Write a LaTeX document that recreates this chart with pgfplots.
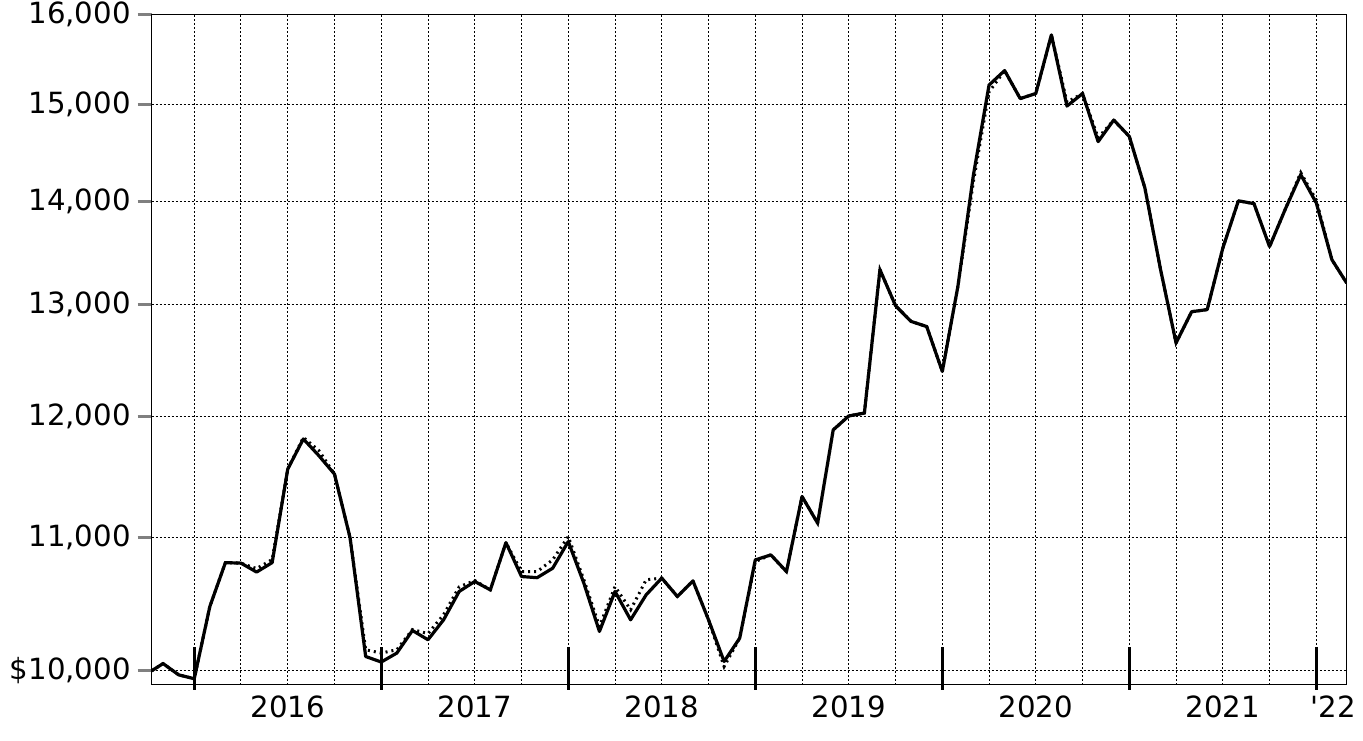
\documentclass[border=0pt]{standalone}
\usepackage{fontspec}
\setmainfont{DejaVu Sans}
\usepackage{pgfplots}
\usepackage{pgfplotstable}
\pgfplotsset{compat=1.18}

% month index: 0 = start of 2016, values in dollars
\pgfplotstableread{
m v
-2.73 10000
-2 10052
-1 9971
0 9943
1 10471
2 10806
3 10802
4 10733
5 10806
6 11555
7 11807
8 11666
9 11513
10 11000
11 10103
12 10063
13 10128
14 10293
15 10225
16 10372
17 10585
18 10661
19 10597
20 10962
21 10699
22 10690
23 10763
24 10970
25 10648
26 10286
27 10585
28 10372
29 10560
30 10687
31 10547
32 10666
33 10372
34 10067
35 10237
36 10827
37 10866
38 10737
39 11330
40 11116
41 11884
42 12003
43 12028
44 13329
45 12989
46 12844
47 12797
48 12392
49 13170
50 14269
51 15215
52 15373
53 15068
54 15122
55 15772
56 14988
57 15123
58 14610
59 14838
60 14665
61 14133
62 13335
63 12648
64 12934
65 12954
66 13537
67 14004
68 13975
69 13552
70 13917
71 14269
72 13982
73 13425
73.95 13202
}\fundA

\pgfplotstableread{
m v
-2.73 10000
-2 10052
-1 9971
0 9943
1 10471
2 10806
3 10802
4 10760
5 10830
6 11555
7 11820
8 11709
9 11513
10 11000
11 10152
12 10128
13 10152
14 10300
15 10270
16 10410
17 10620
18 10668
19 10597
20 10962
21 10737
22 10737
23 10828
24 11009
25 10674
26 10323
27 10622
28 10447
29 10674
30 10687
31 10547
32 10666
33 10372
34 10031
35 10237
36 10814
37 10866
38 10737
39 11330
40 11116
41 11884
42 12003
43 12028
44 13329
45 12989
46 12844
47 12797
48 12392
49 13170
50 14200
51 15140
52 15373
53 15068
54 15122
55 15772
56 15030
57 15123
58 14650
59 14838
60 14665
61 14133
62 13335
63 12648
64 12934
65 12954
66 13537
67 14004
68 13975
69 13552
70 13917
71 14290
72 14010
73 13425
73.95 13202
}\fundB

\begin{document}
\begin{tikzpicture}
\begin{axis}[
  scale only axis,
  width=597.5pt, height=335pt,
  ymode=log,
  xmin=-2.73, xmax=73.95,
  ymin=9900, ymax=16000,
  axis line style={line width=0.5pt},
  tick label style={font=\fontsize{14.6}{17}\selectfont},
  x tick label style={yshift=-2pt},
  tick pos=left,
  xtick align=inside,
  ytick align=outside,
  xtick={6,18,30,42,54,66,73.1},
  xticklabels={2016,2017,2018,2019,2020,2021,\textquotesingle 22},
  major x tick style={draw=none},
  minor xtick={0,3,...,72},
  xminorgrids,
  minor x tick style={draw=none},
  ytick={10000,11000,12000,13000,14000,15000,16000},
  yticklabels={{\$10,000},{11,000},{12,000},{13,000},{14,000},{15,000},{16,000}},
  ymajorgrids,
  major y tick style={line width=1.6pt},
  major tick length=7pt,
  grid style={black, line width=0.5pt, dash pattern=on 1pt off 1pt},
  minor grid style={black, line width=0.5pt, dash pattern=on 1pt off 1pt},
  extra x ticks={0,12,24,36,48,60,72},
  extra x tick labels={},
  extra x tick style={grid=none, xtick align=inside, major tick length=21.5pt,
    major x tick style={draw=black, line width=1.5pt, yshift=-2.5pt}},
]
\addplot[black, no marks, line width=1.5pt, dash pattern=on 1pt off 2pt] table[x=m, y=v] {\fundB};
\addplot[black, no marks, line width=1.6pt, line join=round] table[x=m, y=v] {\fundA};
\end{axis}
\pgfresetboundingbox
\path[use as bounding box] (-75.85pt,-27.5pt) rectangle (605.65pt,342.5pt);
\end{tikzpicture}
\end{document}
